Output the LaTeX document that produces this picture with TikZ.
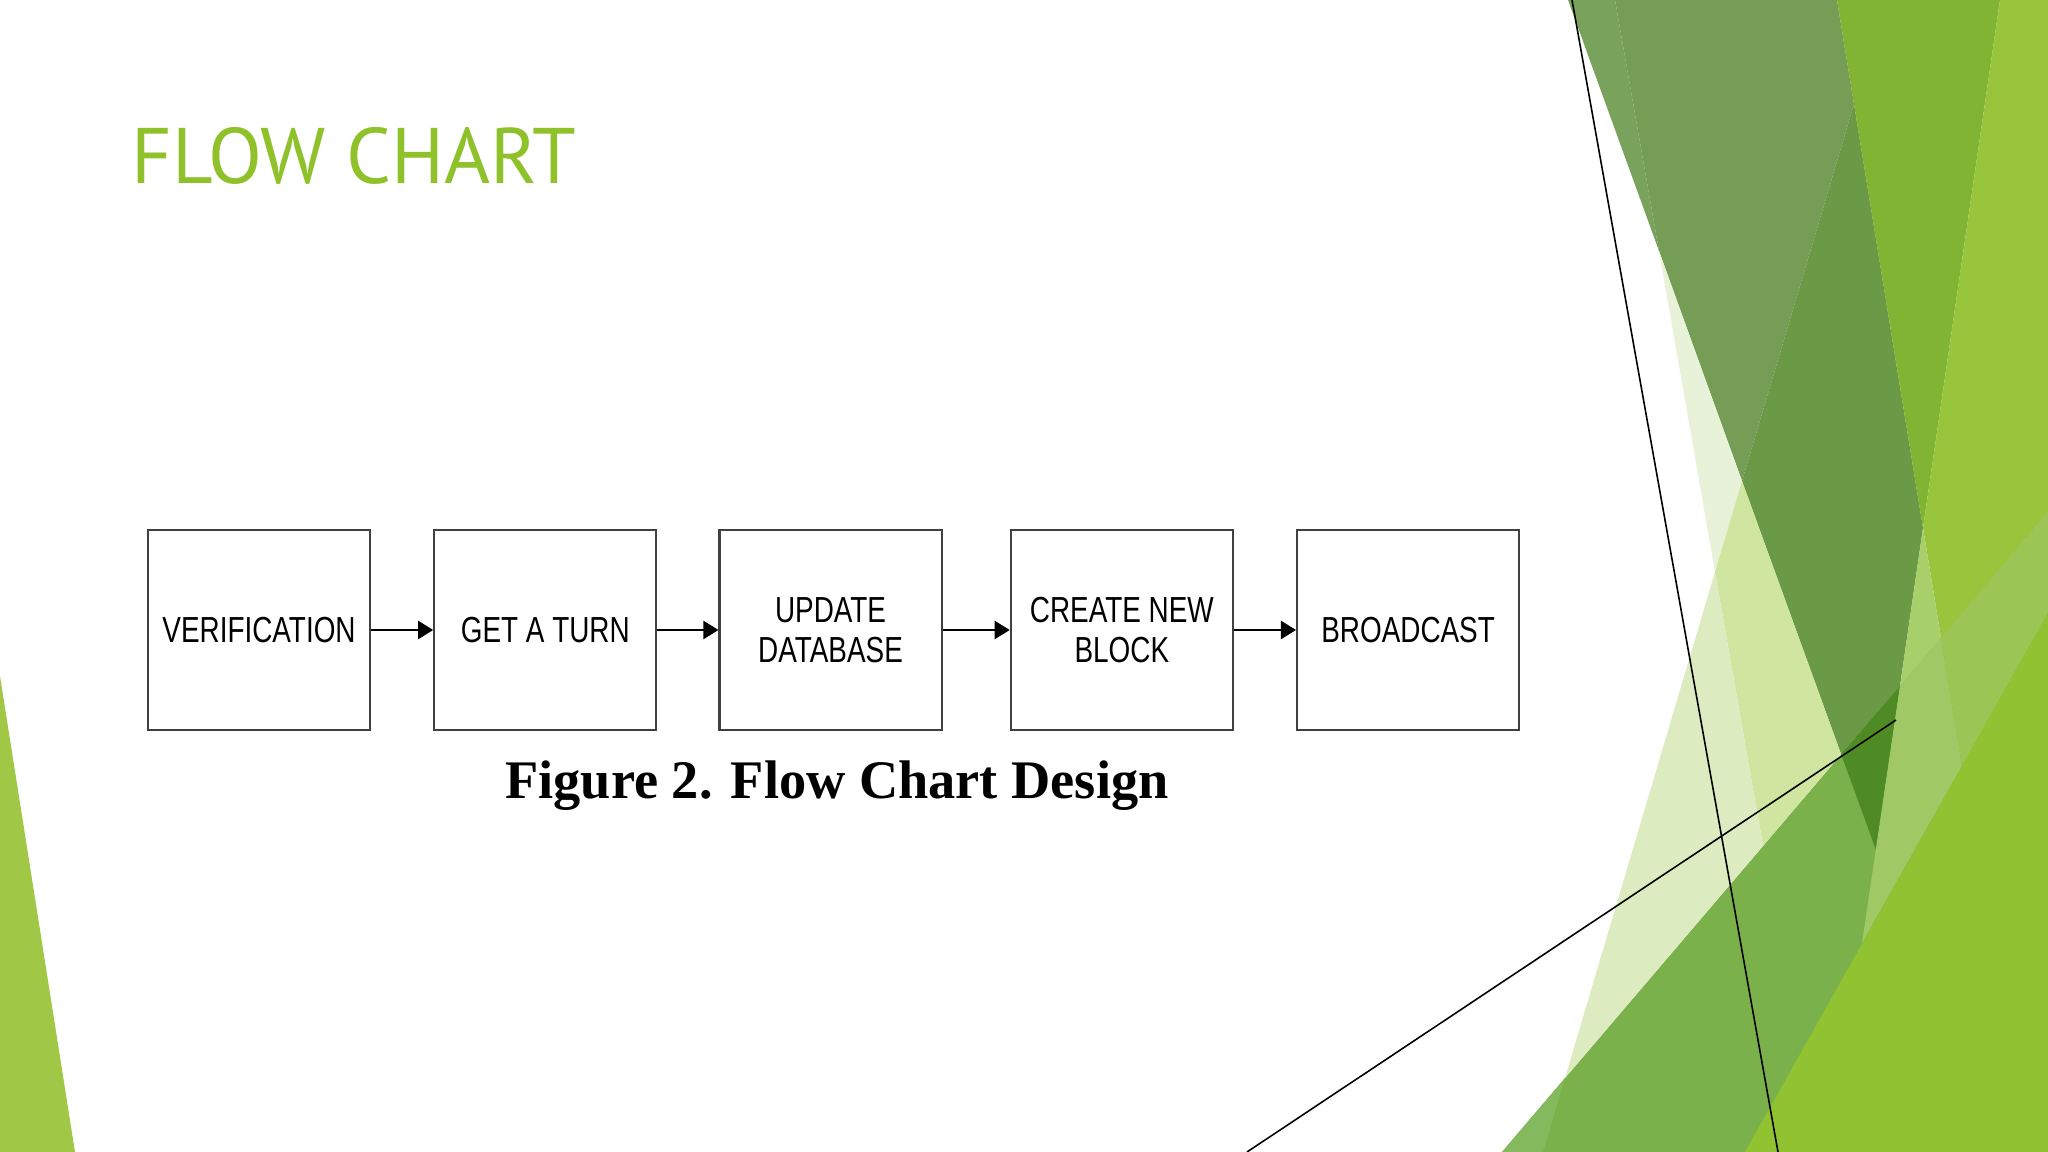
\documentclass[tikz,border=0pt]{standalone}
\usepackage{fontspec}
\usetikzlibrary{positioning}
\usetikzlibrary{arrows.meta}
\newfontfamily\boxfont[FakeStretch=0.77]{Liberation Sans}
\newfontfamily\capfont{Liberation Serif}
\newfontfamily\titlefont{PT Sans}
\definecolor{titlegreen}{RGB}{143,193,42}
\definecolor{mutedl}{RGB}{121,162,93}
\definecolor{muted}{RGB}{118,157,86}
\definecolor{darkg}{RGB}{106,154,69}
\definecolor{darkest}{RGB}{78,139,37}
\definecolor{brightg}{RGB}{128,180,50}
\definecolor{lime}{RGB}{153,197,61}
\definecolor{limer}{RGB}{168,208,106}
\definecolor{limerb}{RGB}{160,201,102}
\definecolor{limeb}{RGB}{155,198,86}
\definecolor{band}{RGB}{122,177,75}
\definecolor{bandl}{RGB}{132,186,93}
\definecolor{ctri}{RGB}{144,194,49}
\definecolor{paleq}{RGB}{232,242,216}
\definecolor{palep}{RGB}{221,235,192}
\definecolor{palepq}{RGB}{208,230,160}
\definecolor{lefttri}{RGB}{160,200,70}
\tikzset{
    stepbox/.style = {rectangle, draw=black!75, line width=0.6pt, fill=white, minimum width=2.22cm, minimum height=2cm, align=center, inner sep=0pt, text=black, font=\boxfont\fontsize{10.3}{11.4}\selectfont},
    edgen/.style = {-{Triangle[length=4.3pt,width=5.2pt]}, line width=0.5pt, black},
    thinline/.style = {line width=0.45pt, black}
}

\begin{document}
\begin{tikzpicture}[x=0.01cm, y=-0.01cm]
  \useasboundingbox (0,0) rectangle (2048,1152);
  \fill[white] (0,0) rectangle (2048,1152);

  % facets right
  \fill[band] (1502,1152) -- (2048,512) -- (2048,1152) -- cycle;
  \fill[bandl] (1502,1152) -- (1565,1078) -- (1543,1152) -- cycle;
  \fill[mutedl] (1568,0) -- (1615,0) -- (1659,251) -- cycle;
  \fill[muted] (1615,0) -- (1837,0) -- (1854,104) -- (1742,481) -- (1659,251) -- cycle;
  \fill[darkg] (1854,104) -- (1923,528) -- (1900,686) -- (1841,754) -- (1742,481) -- cycle;
  \fill[darkest] (1841,754) -- (1900,686) -- (1876,850) -- cycle;
  \fill[brightg] (1837,0) -- (2000,0) -- (1923,528) -- cycle;
  \fill[lime] (2000,0) -- (2048,0) -- (2048,512) -- (1941,638) -- (1923,528) -- cycle;
  \fill[limer] (1923,528) -- (1941,638) -- (1900,686) -- cycle;
  \fill[limerb] (1900,686) -- (1941,638) -- (1962,766) -- (1862,943) -- cycle;
  \fill[limeb] (1941,638) -- (2048,512) -- (2048,613) -- (1962,766) -- cycle;
  \fill[paleq] (1659,251) -- (1742,481) -- (1715,572) -- cycle;
  \fill[palepq] (1715,572) -- (1742,481) -- (1841,754) -- (1763,846) -- cycle;
  \fill[palep] (1715,572) -- (1763,846) -- (1565,1078) -- cycle;
  \fill[ctri] (1745,1152) -- (2048,613) -- (2048,1152) -- cycle;
  % facet left
  \fill[lefttri] (0,676) -- (75,1152) -- (0,1152) -- cycle;
  \draw[thinline] (1572,0) -- (1778,1152);
  \draw[thinline] (1247,1152) -- (1896,720);

  \node[anchor=base west, inner sep=0pt, text=titlegreen, font=\titlefont\fontsize{22.4}{26}\selectfont] (title) at (131,184) {FLOW CHART};

  \node[stepbox] (verif) at (259,630) {VERIFICATION};
  \node[stepbox, right=0.62cm of verif] (turn) {GET A TURN};
  \node[stepbox, right=0.61cm of turn] (update) {UPDATE\\DATABASE};
  \node[stepbox, right=0.67cm of update] (create) {CREATE NEW\\BLOCK};
  \node[stepbox, right=0.62cm of create] (bcast) {BROADCAST};
  \draw[edgen] (verif) -- (turn);
  \draw[edgen] (turn) -- (update);
  \draw[edgen] (update) -- (create);
  \draw[edgen] (create) -- (bcast);

  \node[anchor=base, inner sep=0pt, font=\capfont\bfseries\fontsize{15.45}{18}\selectfont] (caption) at (837,798) {Figure 2. Flow Chart Design};
\end{tikzpicture}
\end{document}
